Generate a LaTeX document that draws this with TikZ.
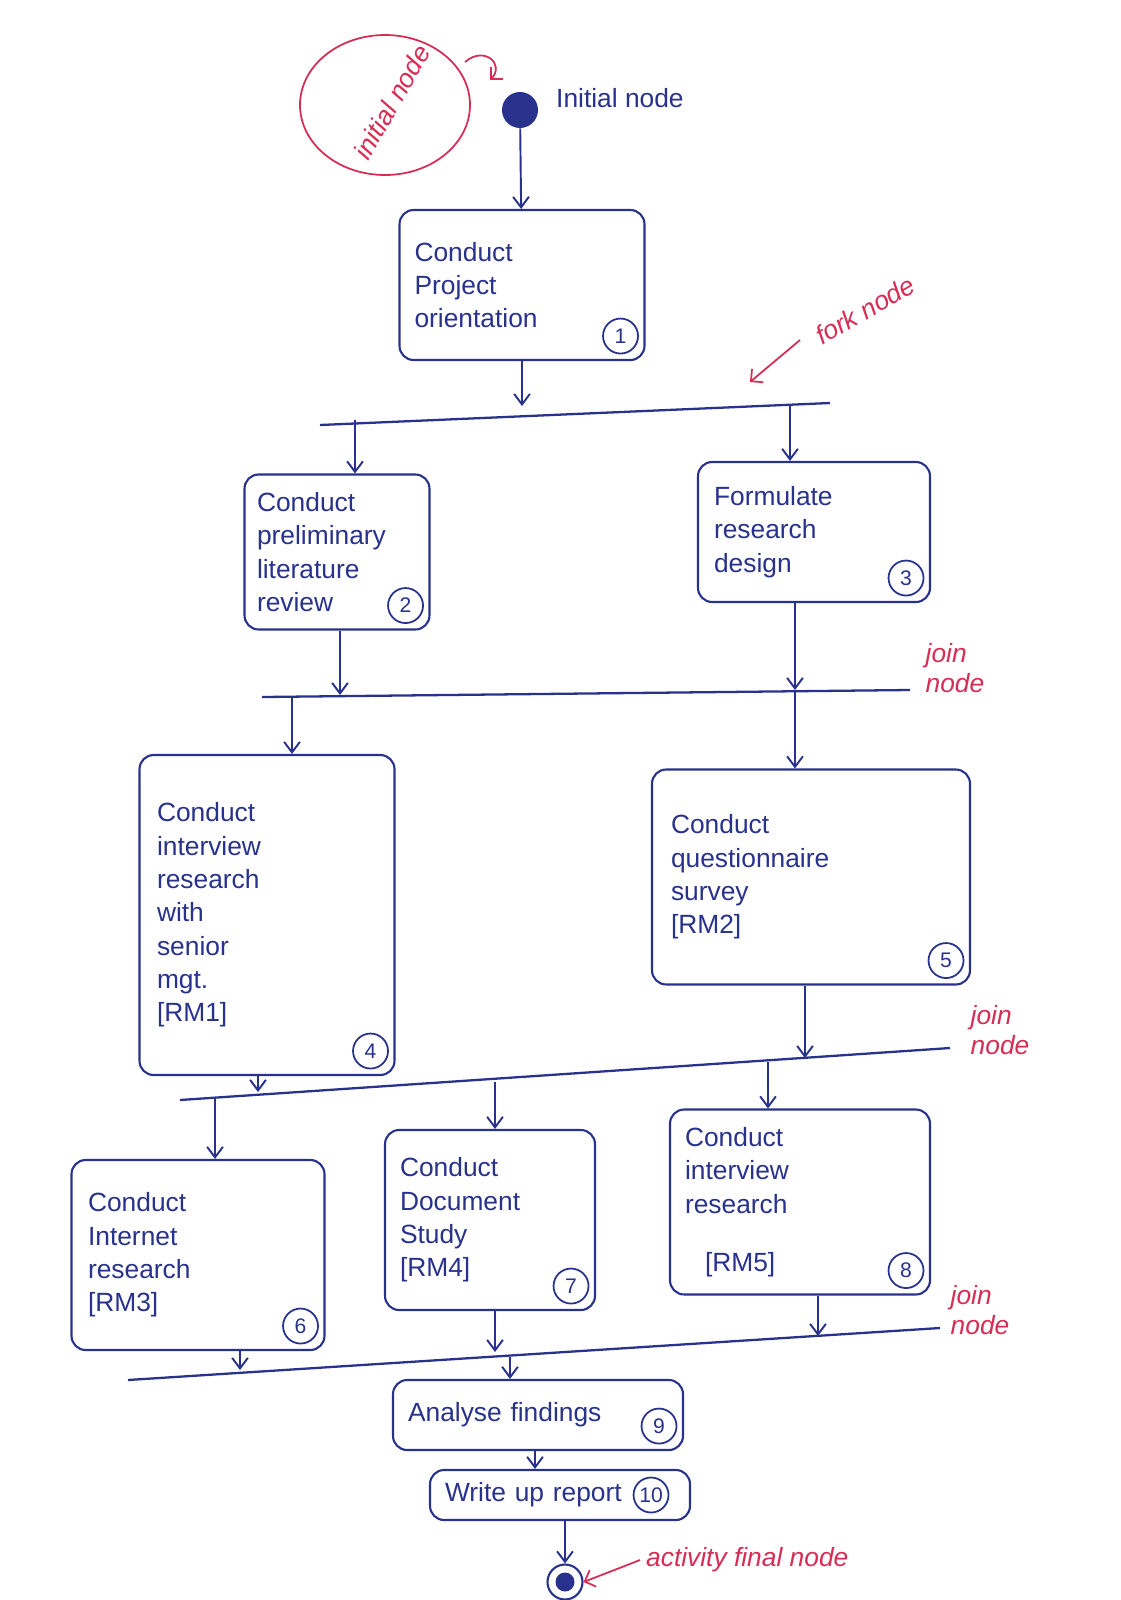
\documentclass[tikz,border=0pt]{standalone}
\usepackage{fontspec}
\setmainfont{Liberation Sans}
\usetikzlibrary{arrows.meta,shapes.geometric}
\definecolor{ink}{RGB}{40,50,140}
\definecolor{redink}{RGB}{215,45,85}
\begin{document}
\begin{tikzpicture}[x=0.02cm,y=-0.02cm,
  every node/.style={font=\fontsize{15}{19}\selectfont, text=ink},
  box/.style={draw=ink, line width=1.2pt, rounded corners=8pt, align=left, inner sep=6pt},
  num/.style={draw=ink, circle, line width=1pt, inner sep=1pt, minimum size=0.7cm, font=\fontsize{12}{14}\selectfont},
  arr/.style={draw=ink, line width=1.1pt, -{Straight Barb[length=6pt,width=9pt]}},
  bar/.style={draw=ink, line width=1.3pt},
  note/.style={text=redink, font=\fontsize{15}{17}\selectfont\itshape, align=left}]
\useasboundingbox (0,0) rectangle (1121,1600);
\fill[white] (0,0) rectangle (1121,1600);

% initial node
\node[circle, fill=ink, minimum size=0.72cm, inner sep=0] (init) at (520,110) {};
\node[anchor=west] (initlbl) at (550,98) {Initial node};
\draw[redink, line width=1pt] (385,105) ellipse [x radius=85, y radius=70];
\node[note, rotate=60, inner sep=1pt] (initnote) at (392,102) {initial node};
\draw[redink, line width=1pt, -{Straight Barb[length=5pt]}] (465,62) .. controls (485,45) and (505,65) .. (490,80);

% boxes
\node[box, minimum width=4.9cm, minimum height=3cm, text width=4.3cm] (b1) at (522,285) {Conduct\\Project\\orientation};
\node[box, minimum width=3.7cm, minimum height=3.1cm, text width=3.2cm] (b2) at (337,552) {Conduct\\preliminary\\literature\\review};
\node[box, minimum width=4.64cm, minimum height=2.8cm, text width=4.0cm] (b3) at (814,532) {Formulate\\research\\design};
\node[box, minimum width=5.1cm, minimum height=6.4cm, text width=4.4cm] (b4) at (267,915) {Conduct\\interview\\research\\with\\senior\\mgt.\\{[RM1]}};
\node[box, minimum width=6.36cm, minimum height=4.3cm, text width=5.6cm] (b5) at (811,877) {Conduct\\questionnaire\\survey\\{[RM2]}};
\node[box, minimum width=5.06cm, minimum height=3.8cm, text width=4.4cm] (b6) at (198,1255) {Conduct\\Internet\\research\\{[RM3]}};
\node[box, minimum width=4.2cm, minimum height=3.6cm, text width=3.6cm] (b7) at (490,1220) {Conduct\\Document\\Study\\{[RM4]}};
\node[box, minimum width=5.2cm, minimum height=3.7cm, text width=4.6cm] (b8) at (800,1202) {Conduct\\interview\\research\\[14pt]\hspace*{0.4cm}{[RM5]}};
\node[box, minimum width=5.8cm, minimum height=1.4cm, text width=5.2cm] (b9) at (538,1415) {Analyse findings};
\node[box, minimum width=5.2cm, minimum height=1.0cm, text width=4.6cm, inner sep=3pt] (b10) at (560,1495) {Write up report};

\foreach \b/\n in {b1/1,b2/2,b3/3,b4/4,b5/5,b6/6,b7/7,b8/8,b9/9}
  \node[num] (n\n) at ([xshift=-0.5cm,yshift=0.5cm]\b.south east) {\n};
\node[num] (n10) at ([xshift=-0.8cm]b10.east) {10};

% bars
\coordinate (f1a) at (320,425); \coordinate (f1b) at (830,403);
\draw[bar] (f1a) -- (f1b);
\coordinate (j1a) at (262,697); \coordinate (j1b) at (910,690);
\draw[bar] (j1a) -- (j1b);
\coordinate (j2a) at (180,1100); \coordinate (j2b) at (950,1048);
\draw[bar] (j2a) -- (j2b);
\coordinate (j3a) at (128,1380); \coordinate (j3b) at (940,1328);
\draw[bar] (j3a) -- (j3b);

% final node
\node[circle, draw=ink, line width=1.2pt, minimum size=0.7cm, inner sep=0] (fin) at (565,1582) {};
\node[circle, fill=ink, minimum size=0.38cm, inner sep=0] (finin) at (fin) {};

% arrows
\draw[arr] (init) -- (b1);
\draw[arr] (b1.south) -- ++(0,45) coordinate (t1);
\draw[arr] (355,420) -- (b2.north -| 355,0);
\draw[arr] (790,405) -- (b3.north -| 790,0);
\draw[arr] (b2.south -| 340,0) -- (340,695);
\draw[arr] (b3.south -| 795,0) -- (795,690);
\draw[arr] (292,697) -- (b4.north -| 292,0);
\draw[arr] (795,692) -- (b5.north -| 795,0);
\draw[arr] (b4.south -| 258,0) -- (258,1092);
\draw[arr] (b5.south -| 805,0) -- (805,1058);
\draw[arr] (215,1097) -- (b6.north -| 215,0);
\draw[arr] (495,1082) -- (b7.north -| 495,0);
\draw[arr] (768,1062) -- (b8.north -| 768,0);
\draw[arr] (b6.south -| 240,0) -- (240,1370);
\draw[arr] (b7.south -| 495,0) -- (495,1352);
\draw[arr] (b8.south -| 818,0) -- (818,1336);
\draw[arr] (510,1357) -- (b9.north -| 510,0);
\draw[arr] (b9.south -| 535,0) -- (b10.north -| 535,0);
\draw[arr] (b10.south -| 565,0) -- (fin);

% red notes
\node[note, rotate=30] (forknote) at (865,310) {fork node};
\draw[redink, line width=1pt, -{Straight Barb[length=5pt]}] (800,340) -- (750,382);
\node[note] (jn1) at (955,668) {join\\node};
\node[note] (jn2) at (1000,1030) {join\\node};
\node[note] (jn3) at (980,1310) {join\\node};
\node[note, anchor=west] (finnote) at (640,1560) {activity final node};
\draw[redink, line width=1pt, -{Straight Barb[length=5pt]}] (finnote.west) -- (fin.east);
\end{tikzpicture}
\end{document}
